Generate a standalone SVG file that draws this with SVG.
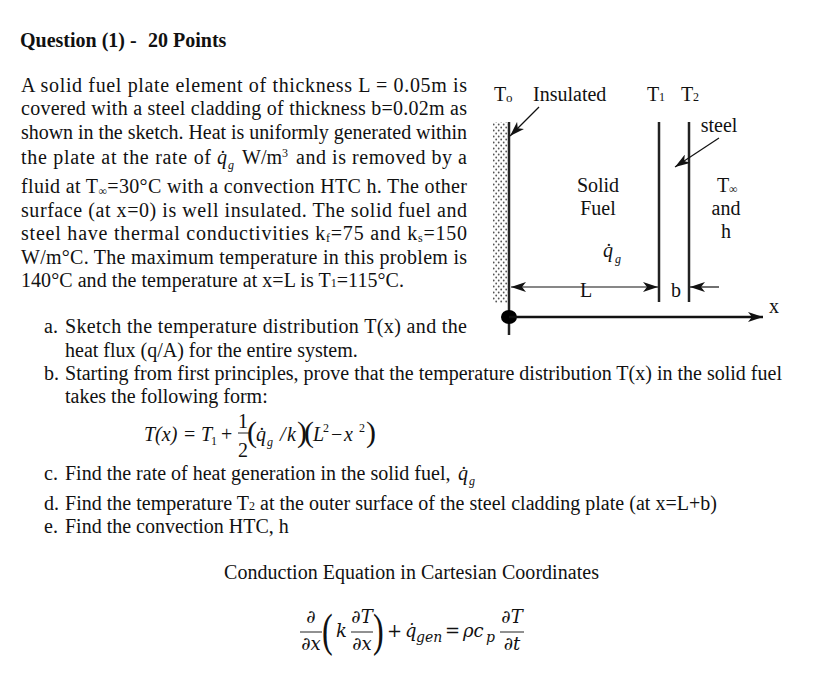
<svg xmlns="http://www.w3.org/2000/svg" width="824" height="675" viewBox="0 0 824 675">
<defs>
<pattern id="dots" width="5" height="6" patternUnits="userSpaceOnUse"><rect width="5" height="6" fill="#fff"/><circle cx="1.2" cy="1.5" r="0.9" fill="#555"/><circle cx="3.7" cy="4.5" r="0.9" fill="#555"/></pattern>
<marker id="ah" markerUnits="userSpaceOnUse" markerWidth="16" markerHeight="10" refX="15" refY="5" orient="auto"><path d="M0 0L15 5L0 10L4 5Z" fill="#111"/></marker>
</defs>
<style>
text{font-family:"Liberation Serif","Times New Roman",serif;font-size:20px;fill:#111}
.c{text-anchor:middle}
.i{font-style:italic}
.s{font-size:12px}
.m{font-family:"DejaVu Serif","Liberation Serif",serif;font-size:18px}
.g{font-family:"DejaVu Serif","Liberation Serif",serif;font-size:14px;font-style:italic}
.l{stroke:#222;fill:none}
</style>
<rect width="824" height="675" fill="#fff"/>
<g id="question-text">
<text x="20" y="47" style="font-weight:bold">Question (1) -</text>
<text x="148" y="47" style="font-weight:bold">20 Points</text>
<text x="21" y="92" textLength="446">A solid fuel plate element of thickness L = 0.05m is</text>
<text x="21" y="115" textLength="446">covered with a steel cladding of thickness b=0.02m as</text>
<text x="21" y="139" textLength="446">shown in the sketch. Heat is uniformly generated within</text>
<text x="21" y="164" textLength="190">the plate at the rate of</text>
<text x="217" y="164" class="i">q̇</text><text x="228" y="169" class="i s">g</text>
<text x="242" y="164">W/m<tspan class="s" dy="-7">3</tspan></text>
<text x="296" y="164" textLength="171">and is removed by a</text>
<text x="21" y="193" textLength="446">fluid at T<tspan class="s" dy="2">∞</tspan><tspan dy="-2">=30°C with a convection HTC h. The other</tspan></text>
<text x="21" y="217" textLength="446">surface (at x=0) is well insulated. The solid fuel and</text>
<text x="21" y="240" textLength="446">steel have thermal conductivities k<tspan class="s" dy="2">f</tspan><tspan dy="-2">=75 and k</tspan><tspan class="s" dy="2">s</tspan><tspan dy="-2">=150</tspan></text>
<text x="21" y="264" textLength="446">W/m°C. The maximum temperature in this problem is</text>
<text x="21" y="287" textLength="383">140°C and the temperature at x=L is T<tspan class="s">1</tspan>=115°C.</text>
<text x="44" y="333">a.</text>
<text x="65" y="333" textLength="402">Sketch the temperature distribution T(x) and the</text>
<text x="65" y="357">heat flux (q/A) for the entire system.</text>
<text x="44" y="380">b.</text>
<text x="65" y="380" textLength="717">Starting from first principles, prove that the temperature distribution T(x) in the solid fuel</text>
<text x="65" y="403">takes the following form:</text>
<text x="44" y="480">c.</text>
<text x="65" y="480">Find the rate of heat generation in the solid fuel,</text>
<text x="458" y="480" class="i">q̇</text><text x="469" y="485" class="i s">g</text>
<text x="44" y="510">d.</text>
<text x="65" y="510" textLength="652">Find the temperature T<tspan class="s">2</tspan> at the outer surface of the steel cladding plate (at x=L+b)</text>
<text x="44" y="533">e.</text>
<text x="65" y="533">Find the convection HTC, h</text>
<text x="224" y="579" textLength="375">Conduction Equation in Cartesian Coordinates</text>
</g>
<g id="formula-temperature">
<text x="144" y="441" class="i">T(x)</text>
<text x="184" y="441">=</text>
<text x="201" y="441" class="i">T</text><text x="211" y="445" class="s">1</text>
<text x="221" y="441">+</text>
<text x="243" y="428" class="c">1</text><text x="243" y="457" class="c">2</text>
<line class="l" x1="238" y1="433" x2="249" y2="433"/>
<text x="247" y="442" style="font-size:30px">(</text>
<text x="256" y="441" class="i">q̇</text><text x="267" y="446" class="i s">g</text>
<text x="280" y="441" class="i">/</text><text x="287" y="441" class="i">k</text>
<text x="297" y="442" style="font-size:30px">)</text><text x="304" y="442" style="font-size:30px">(</text>
<text x="313" y="441" class="i">L</text><text x="323" y="432" class="s">2</text>
<text x="331" y="441">−</text><text x="344" y="441" class="i">x</text><text x="359" y="432" class="s">2</text>
<text x="366" y="442" style="font-size:30px">)</text>
</g>
<g id="formula-conduction">
<text x="311" y="623" class="m c">∂</text><text x="311" y="650" class="m c i">∂x</text>
<line class="l" x1="300" y1="632" x2="322" y2="632"/>
<text transform="translate(322 646) scale(0.7 1)" style="font-size:46px">(</text>
<text x="336" y="637" class="m i">k</text>
<text x="362" y="623" class="m c i">∂T</text><text x="362" y="650" class="m c i">∂x</text>
<line class="l" x1="351" y1="632" x2="373" y2="632"/>
<text transform="translate(373 646) scale(0.7 1)" style="font-size:46px">)</text>
<text x="387" y="637" class="m">+</text>
<text x="405" y="637" class="m i">q̇</text><text x="416" y="642" class="g">gen</text>
<text x="445" y="637" class="m">=</text>
<text x="463" y="637" class="m i">ρc</text><text x="486" y="642" class="g">p</text>
<text x="512" y="623" class="m c i">∂T</text><text x="512" y="650" class="m c i">∂t</text>
<line class="l" x1="500" y1="632" x2="524" y2="632"/>
</g>
<g id="insulation"><rect x="493" y="122" width="16" height="181" fill="url(#dots)"/></g>
<g id="wall-x0"><line x1="509" y1="122" x2="509" y2="335" stroke="#222" stroke-width="2.5"/><ellipse cx="509" cy="317" rx="8" ry="7" fill="#000"/></g>
<g id="wall-t1"><line x1="659" y1="122" x2="659" y2="302" stroke="#222" stroke-width="2.5"/></g>
<g id="wall-t2"><line x1="689" y1="122" x2="689" y2="302" stroke="#222" stroke-width="2.5"/></g>
<g id="labels">
<text x="494" y="101">T</text><text x="506" y="102" class="s" style="font-size:13px">o</text>
<text x="533" y="101">Insulated</text>
<text x="647" y="101">T</text><text x="659" y="101" class="s">1</text>
<text x="681" y="101">T</text><text x="693" y="101" class="s">2</text>
<text x="719" y="132" class="c">steel</text>
<text x="598" y="192" class="c">Solid</text>
<text x="598" y="215" class="c">Fuel</text>
<text x="603" y="257" class="i">q̇</text><text x="615" y="263" class="i s">g</text>
<text x="717" y="192">T</text><text x="729" y="193" class="s">∞</text>
<text x="726" y="215" class="c">and</text>
<text x="726" y="238" class="c">h</text>
<text x="586" y="297" class="c">L</text>
<text x="676" y="297" class="c">b</text>
<text x="774" y="313" class="c">x</text>
</g>
<g id="connectors" fill="none" stroke="#111" stroke-width="1.2">
<line x1="539" y1="107" x2="510" y2="136" marker-end="url(#ah)"/>
<line x1="719" y1="138" x2="675" y2="167" marker-end="url(#ah)"/>
<line x1="555" y1="287" x2="511" y2="287" marker-end="url(#ah)"/>
<line x1="555" y1="287" x2="658" y2="287" marker-end="url(#ah)"/>
<line x1="719" y1="287" x2="690" y2="287" marker-end="url(#ah)"/>
<line x1="509" y1="317" x2="763" y2="317" stroke-width="2.4" marker-end="url(#ah)"/>
</g>
</svg>
